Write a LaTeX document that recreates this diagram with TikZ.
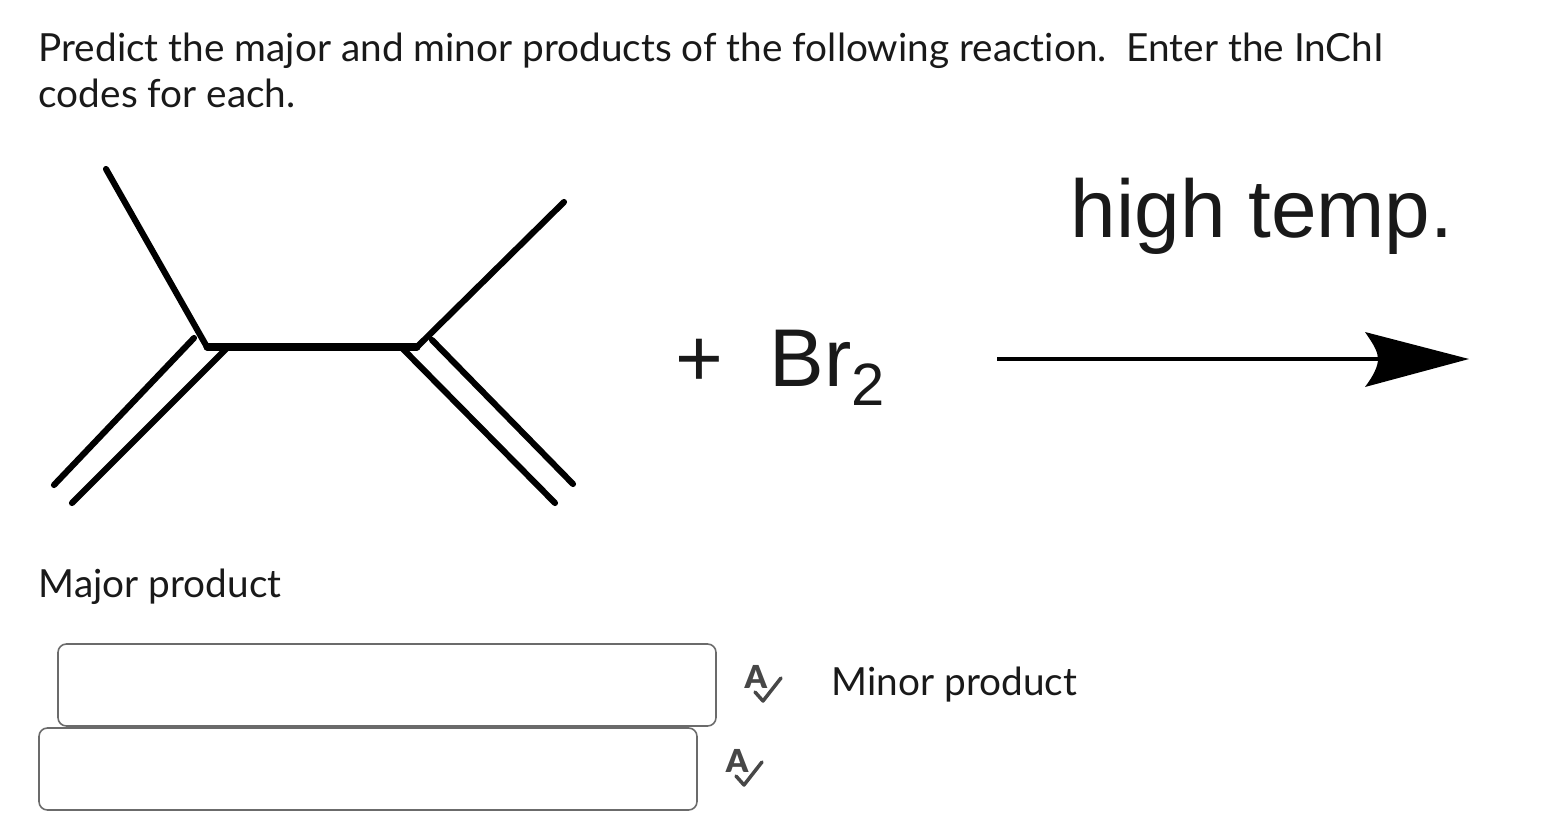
\documentclass[tikz,border=0pt]{standalone}
\usepackage{fontspec}
\setmainfont{Lato}[Ligatures=NoCommon]
\newfontfamily\chemfont{Liberation Sans}
\newfontfamily\iconfont{Lato Black}
\tikzset{
  txt/.style={anchor=base west,inner sep=0pt,font=\fontsize{11.02pt}{13pt}\selectfont,text=black!90},
  chem/.style={anchor=base west,inner sep=0pt,font=\chemfont\fontsize{23.3pt}{27pt}\selectfont,text=black!90},
  bond/.style={line width=1.75pt,line cap=round},
  answerbox/.style={draw=black!58,line width=0.45pt,rounded corners=2.4pt,fill=white},
  iconA/.style={inner sep=0pt,text=black!72,font=\iconfont\fontsize{9pt}{10pt}\selectfont},
  tick/.style={draw=black!72,line width=1pt,line cap=round,line join=round}
}
\begin{document}
\begin{tikzpicture}[x=0.01cm,y=-0.01cm]
\useasboundingbox (0,0) rectangle (1568,836);
% question text
\node[txt](line1) at (38,61) {Predict the major and minor products of the following reaction.\ \ Enter the InChI};
\node[txt](line2) at (38,107) {codes for each.};
% butadiene skeleton
\coordinate (c1) at (207,347);
\coordinate (c2) at (417,347);
\coordinate (me1) at (106,169);
\coordinate (me2) at (564,202);
\coordinate (a1) at (194,338);
\coordinate (a2) at (54,485);
\coordinate (b1) at (226,349);
\coordinate (b2) at (72,503);
\coordinate (d1) at (432,340);
\coordinate (d2) at (573,484);
\coordinate (e1) at (403,349);
\coordinate (e2) at (555,503);
\draw[bond] (me1)--(c1);
\draw[bond,line width=2pt] (c1)--(c2);
\draw[bond] (c2)--(me2);
\draw[bond] (a1)--(a2);
\draw[bond] (b1)--(b2);
\draw[bond] (d1)--(d2);
\draw[bond] (e1)--(e2);
% reagent and arrow
\node[chem](plus) at (675,386) {+};
\node[chem](br) at (769,386) {Br\raisebox{-0.24em}{\fontsize{17pt}{18pt}\selectfont 2}};
\node[chem](temp) at (1070,237) {high temp.};
\coordinate (start) at (997,359);
\coordinate (tip) at (1469,359);
\coordinate (notch) at (1378,359);
\draw[line width=1.4pt] (start)--(notch);
\fill (tip)--(1365,332)..controls (1374,345) and (1378,352)..(notch)..controls (1378,366) and (1374,375)..(1365,387)--cycle;
% answer fields
\node[txt](major) at (38,597) {Major product};
\node[txt](minor) at (831,695) {Minor product};
\draw[answerbox] (58,644) rectangle (716,726);
\draw[answerbox] (39,728) rectangle (697,810);
% spell check icons
\foreach \dx/\dy/\nm in {0/0/one,-19/84/two}{
  \node[iconA](icon\nm) at (756+\dx,677+\dy) {A};
  \draw[tick] (755+\dx,692+\dy)--(763+\dx,701+\dy)--(781+\dx,678+\dy);
}
\end{tikzpicture}
\end{document}
